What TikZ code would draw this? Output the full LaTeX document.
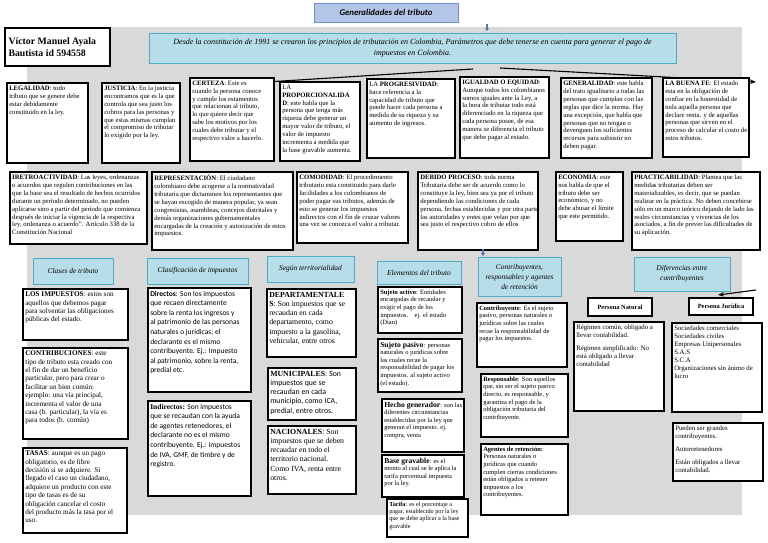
\documentclass[tikz,border=0pt]{standalone}
\usepackage{fontspec}
\setmainfont{Liberation Serif}
\newfontfamily\calfont{Carlito}
\usetikzlibrary{arrows.meta,fit}
\definecolor{bggray}{HTML}{D9D9D9}
\definecolor{hdrfill}{HTML}{B7DDE8}
\definecolor{hdrline}{HTML}{4BACC6}
\definecolor{ttlfill}{HTML}{B4C6E7}
\definecolor{ttlline}{HTML}{6F8FC9}
\definecolor{smallarr}{HTML}{5A72B0}
\newcommand{\wb}[7]{%
  \node[wbox, fit={(#2,#3) (#4,#5)}] (#1) {};
  \node[txt, #6] (#1t) at ([xshift=2.6pt, yshift=-3.2pt]#1.north west) {#7};}
\newcommand{\hb}[6]{%
  \node[hbox, fit={(#2,#3) (#4,#5)}] (#1) {};
  \node[htxt] (#1t) at (#1.center) {#6};}
\begin{document}
\begin{tikzpicture}[x=1pt,y=-1pt,
  wbox/.style={draw=black, line width=1.1pt, fill=white, inner sep=0pt},
  hbox/.style={draw=hdrline, line width=0.7pt, fill=hdrfill, inner sep=0pt},
  txt/.style={anchor=north west, inner sep=0pt, align=left},
  htxt/.style={inner sep=0pt, align=center, font=\itshape\fontsize{7.4}{10}\selectfont},
  fr/.style={font=\fontsize{6.7}{7.9}\selectfont},
  fc/.style={font=\fontsize{7.2}{8.4}\selectfont},
  fk/.style={font=\calfont\fontsize{7.5}{9.6}\selectfont},
  fd/.style={font=\fontsize{7.8}{9.3}\selectfont},
  fe/.style={font=\fontsize{6.5}{7.6}\selectfont},
  ft/.style={font=\fontsize{6.2}{7.3}\selectfont},
  fp/.style={font=\fontsize{6.8}{8}\selectfont},
  bigarr/.style={line width=1.1pt, -{Stealth[length=6pt,width=4.5pt]}},
  smarr/.style={draw=smallarr, line width=1.4pt, -{Stealth[length=3pt,width=4pt]}}
]
\useasboundingbox (0,0) rectangle (768,543);
\node[fill=bggray, inner sep=0pt, fit={(27,27) (742,515)}] (bg) {};

% title and banner
\node[draw=ttlline, fill=ttlfill, line width=0.6pt, inner sep=0pt, fit={(314,3) (458,22)}] (title) {};
\node[font=\calfont\bfseries\itshape\fontsize{8.8}{10}\selectfont] (titlet) at (title.center) {Generalidades del tributo};
\coordinate (ta1) at (487,24); \coordinate (ta2) at (487,31);
\draw[smarr] (ta1) -- (ta2);

\node[draw=black, line width=1.3pt, fill=white, inner sep=0pt, fit={(5,28) (110,66)}] (author) {};
\node[anchor=west, align=left, inner sep=0pt, font=\bfseries\fontsize{9.8}{12.5}\selectfont] (authort) at ([xshift=4pt]author.west) {Víctor Manuel Ayala\\Bautista id 594558};

\node[hbox, line width=0.8pt, fit={(149,33) (676,63)}] (banner) {};
\node[htxt, font=\itshape\fontsize{8}{10.5}\selectfont] (bannert) at (banner.center) {Desde la constitución de 1991 se crearon los principios de tributación en Colombia, Parámetros que debe tenerse en cuenta para generar el pago de\\ impuestos en Colombia.};

\coordinate (la1) at (473,69); \coordinate (la2) at (219,85);
\draw[bigarr] (la1) -- (la2);
\coordinate (ra1) at (500,68); \coordinate (ra2) at (756,82);
\draw[bigarr] (ra1) -- (ra2);

% row 1
\wb{leg}{7}{83}{88}{163}{fr}{\textbf{LEGALIDAD}: todo\\ tributo que se genere debe\\ estar debidamente\\ constituido en la ley.}
\wb{jus}{102}{83}{180}{163}{fr}{\textbf{JUSTICIA}:  En la justicia\\ encontramos que es la que\\ controla que sea justo los\\ cobros para las personas y\\ que estas mismas cumplan\\ el compromiso de tributar\\ lo exigido por la ley.}
\wb{cer}{190}{78}{274}{161}{fr}{\textbf{CERTEZA}: Este es\\ cuando la persona conoce\\ y cumple los estamentos\\ que relacionan al tributo,\\ lo que quiere decir que\\ sabe los motivos por los\\ cuales debe tributar y el\\ respectivo valor a hacerlo.}
\wb{pro}{280}{82}{360}{161}{fr}{LA\\ \textbf{PROPORCIONALIDA}\\ \textbf{D}: este habla que la\\ persona que tenga más\\ riqueza debe generar un\\ mayor valor de tributo, el\\ valor de impuesto\\ incrementa a medida que\\ la base gravable aumenta.}
\wb{prg}{367}{79}{455}{158}{fr}{LA \textbf{PROGRESIVIDAD}:\\ hace referencia a la\\ capacidad de tributo que\\ puede hacer cada persona a\\ medida de su riqueza y su\\ aumento de ingresos.}
\wb{igu}{460}{77}{549}{158}{fr}{\textbf{IGUALDAD O EQUIDAD}:\\ Aunque todos los colombianos\\ somos iguales ante la Ley, a\\ la hora de tributar todo está\\ diferenciado en la riqueza que\\ cada persona posee, de esa\\ manera se diferencia el tributo\\ que debe pagar al estado.}
\wb{gen}{561}{78}{652}{158}{fr}{\textbf{GENERALIDAD}: este habla\\ del trato igualitario a todas las\\ personas que cumplan con las\\ reglas que dice la norma. Hay\\ una excepción, que habla que\\ personas que no tengan o\\ devenguen los suficientes\\ recursos para subsistir no\\ deben pagar.}
\wb{bfe}{663}{78}{749}{157}{fr}{\textbf{LA BUENA FE}: El estado\\ esta en la obligación de\\ confiar en la honestidad de\\ toda aquella persona que\\ declare renta. y de aquellas\\ personas que sirven en el\\ proceso de calcular el costo de\\ estos tributos.}

% row 2
\wb{irr}{10}{172}{147}{244}{fr}{\textbf{IRETROACTIVIDAD}: Las leyes, ordenanzas\\ o acuerdos que regulen contribuciones en las\\ que la base sea el resultado de hechos ocurridos\\ durante un período determinado, no pueden\\ aplicarse sino a partir del período que comienza\\ después de iniciar la vigencia de la respectiva\\ ley, ordenanza o acuerdo”. Artículo 338 de la\\ Constitución Nacional}
\wb{rep}{152}{172}{293}{250}{fr}{\textbf{REPRESENTACIÓN}: El ciudadano\\ colombiano debe acogerse a la normatividad\\ tributaria que dictaminen los representantes que\\ se hayan escogido de manera popular, ya sean\\ congresistas, asambleas, concejos distritales y\\ demás organizaciones gubernamentales\\ encargadas de la creación y autorización de estos\\ impuestos.}
\wb{com}{297}{172}{408}{243}{fr}{\textbf{COMODIDAD}: El procedimiento\\ tributario esta constituido para darle\\ facilidades a los colombianos de\\ poder pagar sus tributos, además de\\ esto se generar los impuestos\\ indirectos con el fin de cruzar valores\\ una vez se conozca el valor a tributar.}
\wb{deb}{418}{172}{538}{250}{fr}{\textbf{DEBIDO PROCESO}: toda norma\\ Tributaria debe ser de acuerdo como lo\\ constituye la ley, bien sea ya por el tributo\\ dependiendo las condiciones de cada\\ persona, fechas establecidas y por otra parte\\ las autoridades y entes que velan por que\\ sea justo el respectivo cobro de ellos}
\wb{eco}{556}{172}{623}{241}{fr}{\textbf{ECONOMIA}: este\\ nos habla de que el\\ tributo debe ser\\ económico, y no\\ debe abusar el límite\\ que este permitido.}
\wb{pra}{632}{172}{760}{250}{fr}{\textbf{PRACTICABILIDAD}: Plantea que las\\ medidas tributarias deben ser\\ materializables, es decir, que se puedan\\ realizar en la práctica. No deben concebirse\\ sólo en un marco teórico dejando de lado las\\ reales circunstancias y vivencias de los\\ asociados, a fin de prever las dificultades de\\ su aplicación.}

\coordinate (ma1) at (483,249); \coordinate (ma2) at (483,256);
\draw[smarr] (ma1) -- (ma2);

% headers
\hb{h1}{33}{258}{113}{284}{Clases de tributo}
\hb{h2}{147}{258}{248}{284}{Clasificación de impuestos}
\hb{h3}{267}{256}{354}{282}{Según territorialidad}
\hb{h4}{377}{261}{461}{284}{Elementos del tributo}
\hb{h5}{478}{257}{561}{296}{Contribuyentes,\\ responsables y agentes\\ de retención}
\hb{h6}{634}{257}{730}{291}{Diferencias entre\\ contribuyentes}

% column 1
\wb{imp}{23}{289}{128}{340}{fc}{\textbf{LOS IMPUESTOS}:  estos son\\ aquellos que debemos pagar\\ para solventar las obligaciones\\ públicas del estado.}
\wb{con}{23}{348}{128}{439}{fc}{\textbf{CONTRIBUCIONES}:  este\\ tipo de tributo esta creado con\\ el fin de dar un beneficio\\ particular, pero para crear o\\ facilitar un bien común:\\ ejemplo: una vía principal,\\ incrementa el valor de una\\ casa (b. particular), la vía es\\ para todos (b. común)}
\wb{tas}{23}{448}{127}{533}{fc}{\textbf{TASAS}:  aunque es un pago\\ obligatorio, es de libre\\ decisión si se adquiere. Si\\ llegado el caso un ciudadano,\\ adquiere un producto con este\\ tipo de tasas es de su\\ obligación cancelar el costo\\ del producto más la tasa por el\\ uso.}

% column 2
\wb{dir}{148}{288}{251}{392}{fk}{\textbf{Directos}: Son los impuestos\\ que recaen directamente\\ sobre la renta los ingresos y\\ al patrimonio de las personas\\ naturales o jurídicas; el\\ declarante es el mismo\\ contribuyente.  Ej.: Impuesto\\ al patrimonio, sobre la renta,\\ predial etc.}
\wb{ind}{148}{401}{251}{496}{fk}{{\rmfamily\bfseries Indirectos:} Son impuestos\\ que se recaudan con la ayuda\\ de agentes retenedores, el\\ declarante no es el mismo\\ contribuyente. Ej.: impuestos\\ de IVA, GMF, de timbre y de\\ registro.}

% column 3
\wb{dep}{267}{289}{356}{357}{fd}{\textbf{DEPARTAMENTALE}\\ \textbf{S}:  Son impuestos que se\\ recaudan en cada\\ departamento, como\\ impuesto a la gasolina,\\ vehicular, entre otros}
\wb{mun}{268}{368}{356}{420}{fd}{\textbf{MUNICIPALES}:  {\calfont Son}\\ {\calfont impuestos que se}\\ {\calfont recaudan en cada}\\ {\calfont municipio, como ICA,}\\ {\calfont predial, entre otros.}}
\wb{nac}{268}{426}{356}{494}{fd}{\textbf{NACIONALES}: Son\\ impuestos que se deben\\ recaudar en todo el\\ territorio nacional.\\ Como IVA, renta entre\\ otros.}

% column 4
\wb{sac}{378}{287}{462}{333}{fe}{\textbf{Sujeto activo}: Entidades\\ encargadas de recaudar y\\ exigir el pago de los\\ impuestos.\quad  ej. el estado\\ (Dian)}
\wb{spa}{378}{339}{462}{392}{fe}{{\fontsize{7.6}{8}\selectfont\textbf{Sujeto pasivo}}: personas\\ naturales o jurídicas sobre\\ las cuales recae la\\ responsabilidad de pagar los\\ impuestos. al sujeto activo\\ (el estado).}
\wb{hec}{382}{399}{464}{452}{fe}{{\fontsize{7.6}{8}\selectfont\textbf{Hecho generador}}: son las\\ diferentes circunstancias\\ establecidas por la ley que\\ generan el impuesto. ej.\\ compra, venta}
\wb{bas}{382}{455}{464}{497}{fe}{{\fontsize{7.6}{8}\selectfont\textbf{Base gravable}}: es el\\ monto al cual se le aplica la\\ tarifa porcentual impuesta\\ por la ley.}
\wb{tar}{387}{499}{468}{537}{ft}{\textbf{Tarifa}: es el porcentaje a\\ pagar, establecido por la ley\\ que se debe aplicar a la base\\ gravable}

% column 5
\wb{ctb}{477}{303}{567}{367}{fe}{\textbf{Contribuyente}: Es el sujeto\\ pasivo, personas naturales o\\ jurídicas sobre las cuales\\ recae la responsabilidad de\\ pagar los impuestos.}
\wb{res}{481}{374}{568}{437}{fe}{\textbf{Responsable}: Son aquellos\\ que, sin ser el sujeto pasivo\\ directo, es responsable, y\\ garantiza el pago de la\\ obligación tributaria del\\ contribuyente.}
\wb{age}{481}{444}{568}{515}{fe}{\textbf{Agentes de retención:}\\ Personas naturales o\\ jurídicas que cuando\\ cumplen ciertas condiciones\\ están obligados a retener\\ impuestos a los\\ contribuyentes.}

% columns 6-7
\node[wbox, fit={(588,298) (652,316)}] (pnat) {};
\node[font=\bfseries\fontsize{6.4}{8}\selectfont, inner sep=0pt] (pnatt) at (pnat.center) {Persona Natural};
\node[wbox, fit={(689,298) (753,315)}] (pjur) {};
\node[font=\bfseries\fontsize{6.4}{8}\selectfont, inner sep=0pt] (pjurt) at (pjur.center) {Persona Jurídica};
\coordinate (pa1) at (756,290); \coordinate (pa2) at (718,295);
\draw[bigarr] (pa1) -- (pa2);

\wb{reg}{574}{322}{664}{411}{fp}{Régimen común, obligado a\\ llevar contabilidad.\\[5pt] Régimen simplificado: No\\ está obligado a llevar\\ contabilidad}
\wb{soc}{672}{323}{762}{412}{fp}{Sociedades comerciales\\ Sociedades civiles\\ Empresas Unipersonales\\ S.A.S\\ S.C.A\\ Organizaciones sin ánimo de\\ lucro}
\wb{pue}{673}{423}{763}{481}{fp}{Pueden ser grandes\\ contribuyentes.\\[5pt] Autorretenedores\\[5pt] Están obligados a llevar\\ contabilidad.}
\end{tikzpicture}
\end{document}
